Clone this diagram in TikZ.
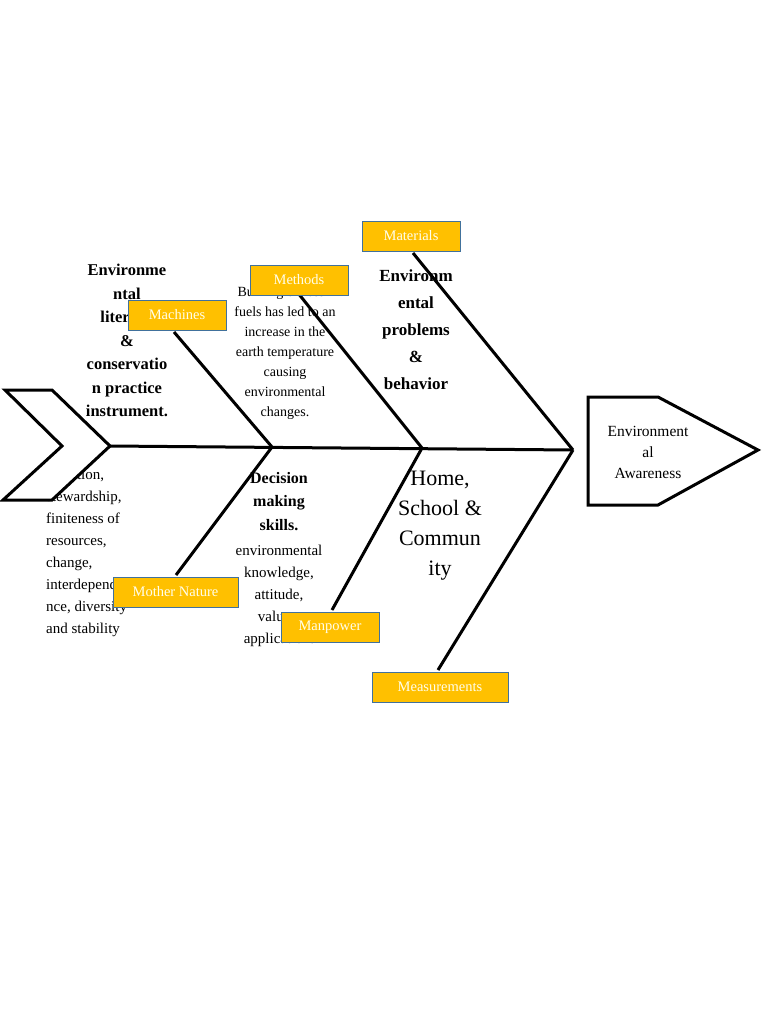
\documentclass[tikz,border=0pt]{standalone}
\usepackage{fontspec}
\setmainfont{Liberation Serif}
\definecolor{lblfill}{HTML}{FFC000}
\definecolor{lbldraw}{HTML}{41719C}
\begin{document}
\begin{tikzpicture}[x=1pt,y=-1pt,
  bone/.style={line width=3pt},
  lbl/.style={draw=lbldraw,line width=0.8pt,fill=lblfill,text=white!92!yellow,minimum height=30pt,inner sep=2pt,font=\fontsize{14.5}{16}\selectfont},
  txt/.style={align=center,inner sep=0pt,anchor=north}]
\useasboundingbox (0,0) rectangle (768,1024);
% texts
\node[txt,font=\bfseries\fontsize{16.5}{23.5}\selectfont] (t1) at (127,264) {Environme\\ntal\\literacy\\\&\\conservatio\\n practice\\instrument.};
\node[txt,font=\fontsize{14}{20}\selectfont] (t2) at (285,286) {Burning of fossil\\fuels has led to an\\increase in the\\earth temperature\\causing\\environmental\\changes.};
\node[txt,font=\bfseries\fontsize{17}{27}\selectfont] (t3) at (416,270) {Environm\\ental\\problems\\\&\\behavior};
\node[txt,align=left,anchor=north west,font=\fontsize{15}{22}\selectfont] (t4) at (46,469) {pollution,\\stewardship,\\finiteness of\\resources,\\change,\\interdepende\\nce, diversity\\and stability};
\node[txt,font=\bfseries\fontsize{16}{23.5}\selectfont] (t5) at (279,472) {Decision\\making\\skills.};
\node[txt,font=\fontsize{15}{22}\selectfont] (t6) at (279,545) {environmental\\knowledge,\\attitude,\\values,\\application.};
\node[txt,font=\fontsize{22}{30}\selectfont] (t7) at (440,471) {Home,\\School \&\\Commun\\ity};
% tail and head
\draw[line width=3pt,fill=white,line join=miter] (5,390) -- (52,390) -- (110,446) -- (52,500) -- (3,500) -- (62,446) -- cycle;
\coordinate (tail) at (110,446);
\coordinate (s1) at (272,447);
\coordinate (s2) at (422,448);
\coordinate (s3) at (573,450);
\draw[bone] (tail) -- (s3);
\draw[line width=3pt,fill=white] (588,397) -- (658,397) -- (758,450) -- (658,505) -- (588,505) -- cycle;
\node[align=center,font=\fontsize{15.5}{21}\selectfont] (ht) at (648,452) {Environment\\al\\Awareness};
% bones
\coordinate (a1) at (174,332); \coordinate (a2) at (298,293); \coordinate (a3) at (413,253);
\coordinate (b1) at (176,575); \coordinate (b2) at (332,610); \coordinate (b3) at (438,670);
\draw[bone] (a1) -- (s1); \draw[bone] (a2) -- (s2); \draw[bone] (a3) -- (s3);
\draw[bone] (b1) -- (s1); \draw[bone] (b2) -- (s2); \draw[bone] (b3) -- (s3);
% labels
\node[lbl,minimum width=98pt] (mat) at (411,236) {Materials};
\node[lbl,minimum width=98pt] (met) at (299,280) {Methods};
\node[lbl,minimum width=98pt] (mac) at (177,315) {Machines};
\node[lbl,minimum width=125pt] (mn) at (175.5,592) {Mother Nature};
\node[lbl,minimum width=98pt] (man) at (330,627) {Manpower};
\node[lbl,minimum width=136pt] (mea) at (440,687) {Measurements};
\end{tikzpicture}
\end{document}
